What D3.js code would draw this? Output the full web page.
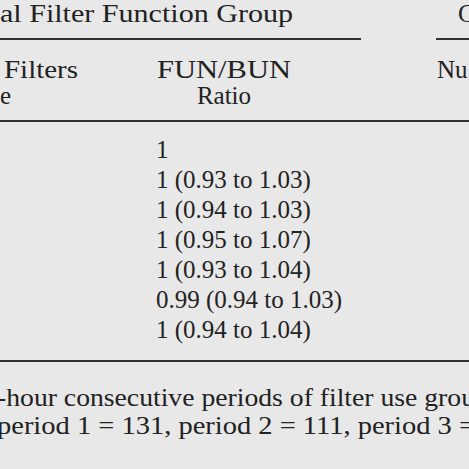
<!DOCTYPE html><html><head><meta charset="utf-8">
<script src="https://cdn.jsdelivr.net/npm/d3@7"></script>
<style>body{margin:0;background:#e8e8e8}</style></head><body>
<script>
const headerGroup = "al Filter Function Group";
const headerRight = "G";
const colHeaders = [["Filters","e"],["FUN/BUN","Ratio"],["Nu",""]];
const ratios = ["1","1 (0.93 to 1.03)","1 (0.94 to 1.03)","1 (0.95 to 1.07)","1 (0.93 to 1.04)","0.99 (0.94 to 1.03)","1 (0.94 to 1.04)"];
const footnotes = ["-hour consecutive periods of filter use grou","period 1 = 131, period 2 = 111, period 3 ="];

const W=469,H=469;
const svg=d3.select("body").append("svg").attr("width",W).attr("height",H);
svg.append("rect").attr("width",W).attr("height",H).attr("fill","#e8e8e8");
const font="Liberation Serif, serif", fs=25, col="#222";
const T=(x,y,s,a="start",len)=>{const t=svg.append("text").attr("x",x).attr("y",y).attr("text-anchor",a)
  .attr("font-family",font).attr("font-size",fs).attr("fill",col).text(s);
  if(len) t.attr("textLength",len).attr("lengthAdjust","spacingAndGlyphs"); return t;};
const L=(x1,x2,y,w=2)=>svg.append("line").attr("x1",x1).attr("x2",x2).attr("y1",y).attr("y2",y).attr("stroke","#333").attr("stroke-width",w);

T(0,22,headerGroup,"start",293);
T(467,22,headerRight,"middle");
L(0,361,39); L(436,469,39);
T(78,78,colHeaders[0][0],"end",74); T(0,104,colHeaders[0][1]);
T(224,78,colHeaders[1][0],"middle",134); T(224,104,colHeaders[1][1],"middle");
T(437,78,colHeaders[2][0]);
L(0,469,121);
const y=d3.scalePoint().domain(d3.range(ratios.length)).range([158,338]);
ratios.forEach((r,i)=>T(156,y(i),r));
L(0,469,361);
T(-3,406,footnotes[0],"start",478); T(-3,434,footnotes[1],"start",478);
</script></body></html>
